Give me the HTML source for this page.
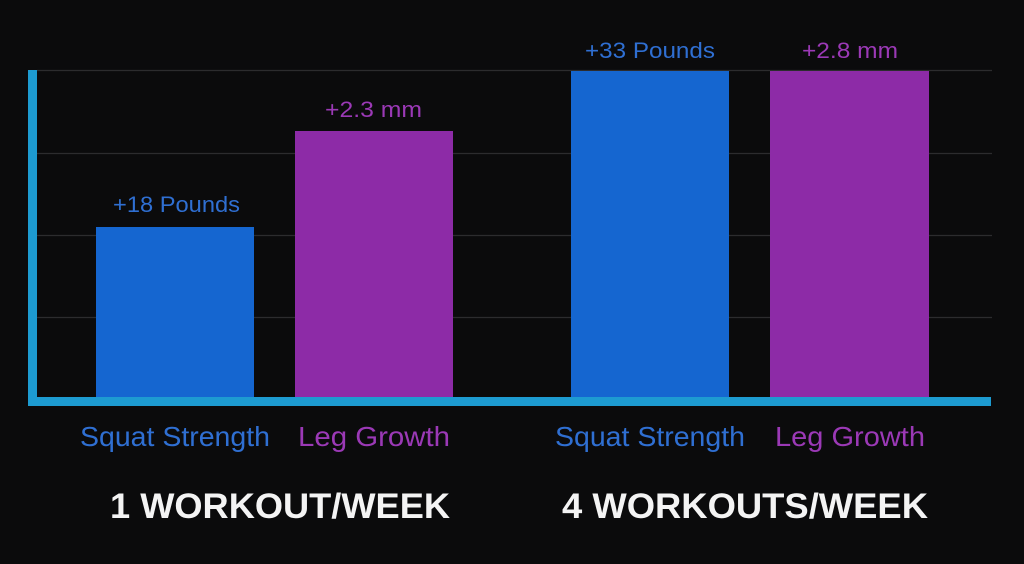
<!DOCTYPE html>
<html>
<head>
<meta charset="utf-8">
<style>
  html,body{margin:0;padding:0;background:#0b0b0c;}
  svg{display:block;}
</style>
</head>
<body>
<svg width="1024" height="564" viewBox="0 0 1024 564" xmlns="http://www.w3.org/2000/svg">
  <rect x="0" y="0" width="1024" height="564" fill="#0b0b0c"/>
  <!-- gridlines -->
  <g stroke="#2c2c2e" stroke-width="1.2">
    <line x1="37" y1="70.5" x2="992" y2="70.5"/>
    <line x1="37" y1="153.5" x2="992" y2="153.5"/>
    <line x1="37" y1="235.5" x2="992" y2="235.5"/>
    <line x1="37" y1="317.5" x2="992" y2="317.5"/>
  </g>
  <!-- bars -->
  <rect x="96" y="227" width="158" height="171" fill="#1566d0"/>
  <rect x="295" y="131" width="158" height="267" fill="#8d2ba7"/>
  <rect x="571" y="71" width="158" height="327" fill="#1566d0"/>
  <rect x="770" y="71" width="159" height="327" fill="#8d2ba7"/>
  <!-- axes -->
  <rect x="28" y="70" width="9" height="336" fill="#1d9bd1"/>
  <rect x="28" y="397" width="963" height="9" fill="#1d9bd1"/>
  <!-- value labels -->
  <g font-family="Liberation Sans, sans-serif" font-size="22">
    <text x="113" y="212" fill="#2f6fd2" textLength="127" lengthAdjust="spacingAndGlyphs">+18 Pounds</text>
    <text x="325" y="117" fill="#9b39b6" textLength="97" lengthAdjust="spacingAndGlyphs">+2.3 mm</text>
    <text x="585" y="58" fill="#2f6fd2" textLength="130" lengthAdjust="spacingAndGlyphs">+33 Pounds</text>
    <text x="802" y="58" fill="#9b39b6" textLength="96" lengthAdjust="spacingAndGlyphs">+2.8 mm</text>
  </g>
  <!-- category labels -->
  <g font-family="Liberation Sans, sans-serif" font-size="28">
    <text x="80" y="446" fill="#2f6fd2" textLength="190" lengthAdjust="spacingAndGlyphs">Squat Strength</text>
    <text x="298" y="446" fill="#9b39b6" textLength="152" lengthAdjust="spacingAndGlyphs">Leg Growth</text>
    <text x="555" y="446" fill="#2f6fd2" textLength="190" lengthAdjust="spacingAndGlyphs">Squat Strength</text>
    <text x="775" y="446" fill="#9b39b6" textLength="150" lengthAdjust="spacingAndGlyphs">Leg Growth</text>
  </g>
  <!-- group titles -->
  <g font-family="Liberation Sans, sans-serif" font-size="35" font-weight="bold" fill="#f4f4f4">
    <text x="110" y="518" textLength="340" lengthAdjust="spacingAndGlyphs">1 WORKOUT/WEEK</text>
    <text x="562" y="518" textLength="366" lengthAdjust="spacingAndGlyphs">4 WORKOUTS/WEEK</text>
  </g>
</svg>
</body>
</html>
